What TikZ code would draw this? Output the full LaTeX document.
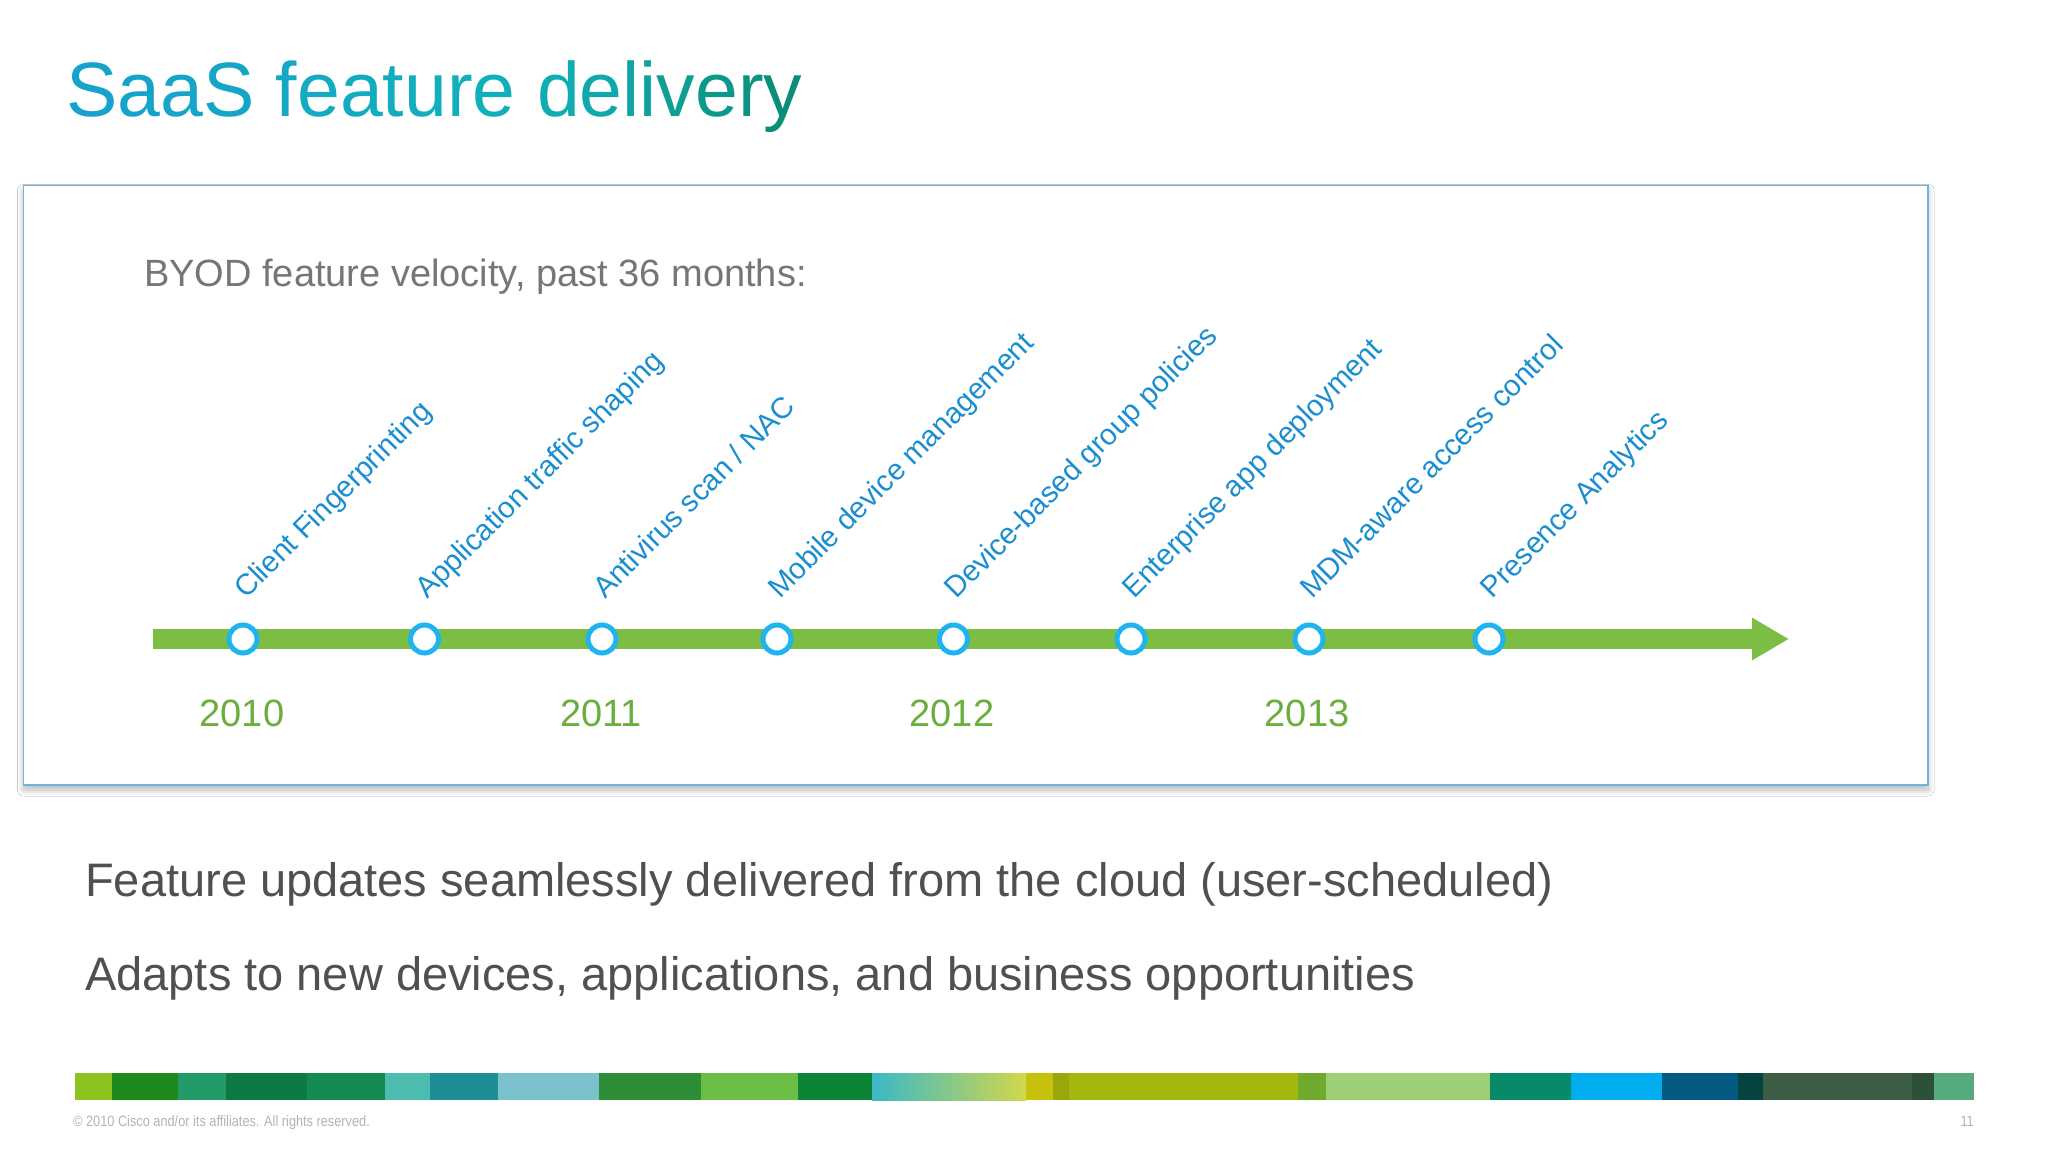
\documentclass[tikz,border=0pt]{standalone}
\usepackage{fontspec}
\setmainfont{Liberation Sans}
\newfontfamily\narrowfont[FakeStretch=0.85]{Liberation Sans}
\usetikzlibrary{arrows.meta,shadows.blur}
\definecolor{tA}{HTML}{17A2CC}
\definecolor{tM}{HTML}{10B0BA}
\definecolor{tB}{HTML}{0B8A70}
\definecolor{boxcol}{HTML}{6DB6D8}
\definecolor{bargreen}{HTML}{7BBE43}
\definecolor{ringblue}{HTML}{1FB3EF}
\definecolor{lblblue}{HTML}{1A8ED0}
\definecolor{yeargreen}{HTML}{6AAE3E}
\definecolor{subgray}{HTML}{767676}
\definecolor{bodygray}{HTML}{505050}
\definecolor{footgray}{HTML}{B4B4B4}
\definecolor{s0}{HTML}{8DC21F}
\definecolor{s1}{HTML}{1E8A1E}
\definecolor{s2}{HTML}{229B68}
\definecolor{s3}{HTML}{0D7A44}
\definecolor{s4}{HTML}{138B50}
\definecolor{s5}{HTML}{4DBDB0}
\definecolor{s6}{HTML}{1E8E96}
\definecolor{s7}{HTML}{7BC1CC}
\definecolor{s8}{HTML}{2E8E38}
\definecolor{s9}{HTML}{6BBE45}
\definecolor{s10}{HTML}{0B8535}
\definecolor{g1}{HTML}{3BB8C8}
\definecolor{g2}{HTML}{9ACB6E}
\definecolor{g3}{HTML}{D2D84A}
\definecolor{s11}{HTML}{C6C20C}
\definecolor{s12}{HTML}{9AA60A}
\definecolor{s13}{HTML}{A4B70F}
\definecolor{s14}{HTML}{6FAA2D}
\definecolor{s15}{HTML}{9ECE76}
\definecolor{s16}{HTML}{078A6A}
\definecolor{s17}{HTML}{00AEEF}
\definecolor{s18}{HTML}{045A80}
\definecolor{s19}{HTML}{05433F}
\definecolor{s20}{HTML}{3D5E45}
\definecolor{s21}{HTML}{2D5038}
\definecolor{s22}{HTML}{55AB7C}
\newcommand\ca[2]{\textcolor{tA!#1!tM}{#2}}
\newcommand\cb[2]{\textcolor{tM!#1!tB}{#2}}
\tikzset{
  ring/.style={circle, draw=ringblue, fill=white, line width=5pt, minimum size=28pt, inner sep=0pt},
  feat/.style={anchor=base west, rotate=45, text=lblblue, inner sep=0pt, font=\fontsize{29.5}{30}\selectfont},
  yearlbl/.style={anchor=base, text=yeargreen, inner sep=0pt, font=\fontsize{38}{40}\selectfont},
  bodytxt/.style={anchor=base west, text=bodygray, inner sep=0pt, font=\fontsize{47}{50}\selectfont},
  footlbl/.style={inner sep=0pt, text=footgray, font=\narrowfont\fontsize{15}{16}\selectfont}
}
\begin{document}
\begin{tikzpicture}[x=1pt,y=-1pt]
\useasboundingbox[fill=white] (0,0) rectangle (2048,1152);
% title
\node[anchor=base west, inner sep=0pt, font=\fontsize{77}{80}\selectfont] (title) at (66,116)
 {\ca{100}{S}\ca{90}{a}\ca{80}{a}\ca{70}{S} \ca{55}{f}\ca{45}{e}\ca{35}{a}\ca{25}{t}\ca{15}{u}\ca{8}{r}\ca{0}{e} \cb{90}{d}\cb{80}{e}\cb{70}{l}\cb{62}{i}\cb{52}{v}\cb{38}{e}\cb{24}{r}\cb{10}{y}};
% box
\draw[draw=boxcol, line width=1.5pt, fill=white,
  blur shadow={shadow xshift=0pt, shadow yshift=-5pt, shadow opacity=28, shadow blur steps=12, shadow blur radius=6pt}]
  (23.5,185.5) rectangle (1928,785);
\node[anchor=base west, inner sep=0pt, text=subgray, font=\fontsize{38}{40}\selectfont] (sub) at (144,286)
 {BYOD feature velocity, past 36 months:};
% timeline
\coordinate (bs) at (153,639);
\coordinate (be) at (1789,639);
\draw[bargreen, line width=20pt, -{Triangle[length=37pt, width=40pt]}] (bs) -- (be);
\foreach \i/\x in {1/243,2/424.5,3/602,4/777,5/953.5,6/1131,7/1309,8/1489}{
  \node[ring] (c\i) at (\x,639) {};
}
\node[feat] (f1) at ([shift={(3,-39)}]c1) {Client Fingerprinting};
\node[feat] (f2) at ([shift={(3,-39)}]c2) {Application traffic shaping};
\node[feat] (f3) at ([shift={(3,-39)}]c3) {Antivirus scan / NAC};
\node[feat] (f4) at ([shift={(3,-39)}]c4) {Mobile device management};
\node[feat] (f5) at ([shift={(3,-39)}]c5) {Device-based group policies};
\node[feat] (f6) at ([shift={(3,-39)}]c6) {Enterprise app deployment};
\node[feat] (f7) at ([shift={(3,-39)}]c7) {MDM-aware access control};
\node[feat] (f8) at ([shift={(3,-39)}]c8) {Presence Analytics};
\node[yearlbl] (y1) at (242,726) {2010};
\node[yearlbl] (y2) at (601,726) {2011};
\node[yearlbl] (y3) at (952,726) {2012};
\node[yearlbl] (y4) at (1307,726) {2013};
% body text
\node[bodytxt] (b1) at (85,896) {Feature updates seamlessly delivered from the cloud (user-scheduled)};
\node[bodytxt] (b2) at (85,990) {Adapts to new devices, applications, and business opportunities};
% colour bar
\fill[s0]  (75,1073) rectangle (112,1100);
\fill[s1]  (112,1073) rectangle (178,1100);
\fill[s2]  (178,1073) rectangle (226,1100);
\fill[s3]  (226,1073) rectangle (307,1100);
\fill[s4]  (307,1073) rectangle (385,1100);
\fill[s5]  (385,1073) rectangle (430,1100);
\fill[s6]  (430,1073) rectangle (498,1100);
\fill[s7]  (498,1073) rectangle (599,1100);
\fill[s8]  (599,1073) rectangle (701,1100);
\fill[s9]  (701,1073) rectangle (798,1100);
\fill[s10] (798,1073) rectangle (872,1100);
\shade[left color=g1, middle color=g2, right color=g3] (872,1073) rectangle (1026,1100);
\fill[s11] (1026,1073) rectangle (1053,1100);
\fill[s12] (1053,1073) rectangle (1069,1100);
\fill[s13] (1069,1073) rectangle (1298,1100);
\fill[s14] (1298,1073) rectangle (1326,1100);
\fill[s15] (1326,1073) rectangle (1490,1100);
\fill[s16] (1490,1073) rectangle (1571,1100);
\fill[s17] (1571,1073) rectangle (1662,1100);
\fill[s18] (1662,1073) rectangle (1738,1100);
\fill[s19] (1738,1073) rectangle (1763,1100);
\fill[s20] (1763,1073) rectangle (1912,1100);
\fill[s21] (1912,1073) rectangle (1934,1100);
\fill[s22] (1934,1073) rectangle (1974,1100);
% footer
\node[footlbl, anchor=base west] (foot) at (73,1126)
 {\textcopyright{} 2010 Cisco and/or its affiliates. All rights reserved.};
\node[footlbl, anchor=base east] (pg) at (1974,1126) {11};
\end{tikzpicture}
\end{document}
